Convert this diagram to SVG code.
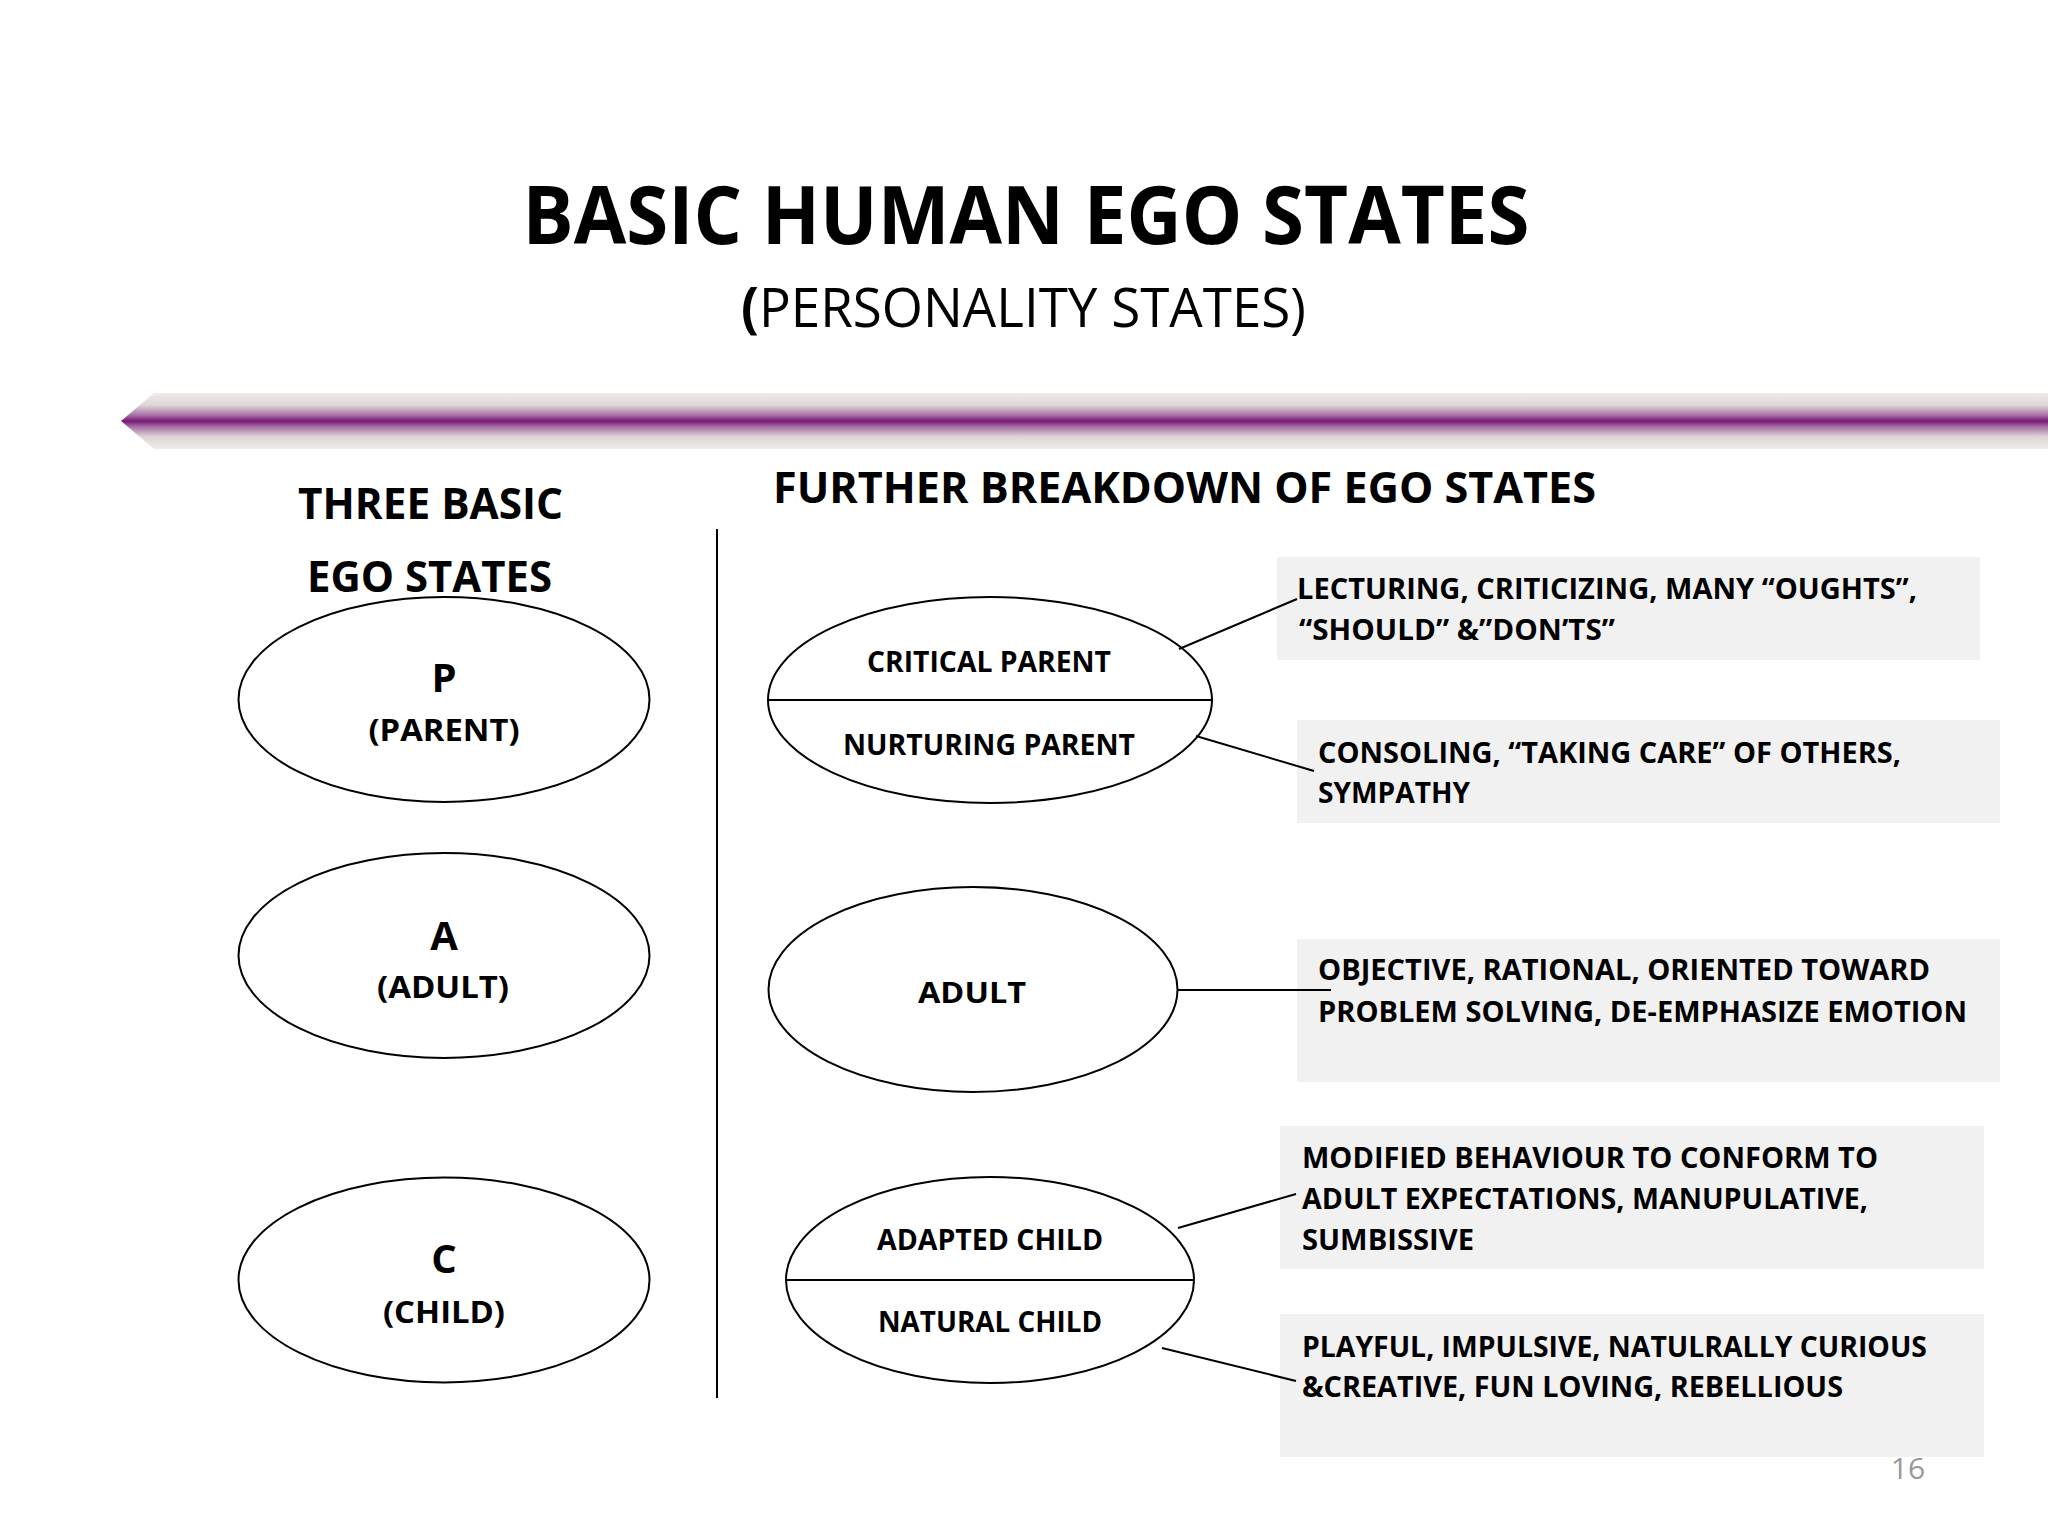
<svg xmlns="http://www.w3.org/2000/svg" width="2048" height="1536" viewBox="0 0 2048 1536">
<defs>
<linearGradient id="band" x1="0" y1="0" x2="0" y2="1">
<stop offset="0" stop-color="#efece8"/>
<stop offset="0.22" stop-color="#ddd5d8"/>
<stop offset="0.4" stop-color="#a66da3"/>
<stop offset="0.5" stop-color="#771877"/>
<stop offset="0.6" stop-color="#a66da3"/>
<stop offset="0.78" stop-color="#ddd5d8"/>
<stop offset="1" stop-color="#efece8"/>
</linearGradient>
<style>
.t{font-family:"Open Sans","Liberation Sans",sans-serif;fill:#000;}
.b{font-weight:bold;}
.el{fill:#fff;stroke:#000;stroke-width:2;}
.ln{stroke:#000;stroke-width:2;fill:none;}
.box{fill:#f2f1f1;}
.bx{font-family:"Open Sans","Liberation Sans",sans-serif;font-weight:bold;font-size:28px;fill:#000;}
.en{font-family:"Open Sans","Liberation Sans",sans-serif;font-weight:bold;font-size:28px;fill:#000;text-anchor:middle;}
</style>
</defs>
<rect width="2048" height="1536" fill="#fff"/>
<text class="t b" x="1026" y="244" font-size="80" text-anchor="middle" textLength="1007" lengthAdjust="spacingAndGlyphs">BASIC HUMAN EGO STATES</text>
<text class="t" x="741" y="327" font-size="55" textLength="565" lengthAdjust="spacingAndGlyphs"><tspan font-weight="bold">(</tspan>PERSONALITY STATES)</text>
<polygon points="154,393 2048,393 2048,449 154,449 121,421" fill="url(#band)"/>
<text class="t b" x="298" y="519" font-size="43" textLength="265" lengthAdjust="spacingAndGlyphs">THREE BASIC</text>
<text class="t b" x="307" y="592" font-size="43" textLength="245" lengthAdjust="spacingAndGlyphs">EGO STATES</text>
<text class="t b" x="773" y="503" font-size="43" textLength="823" lengthAdjust="spacingAndGlyphs">FURTHER BREAKDOWN OF EGO STATES</text>
<line class="ln" x1="717" y1="529" x2="717" y2="1398"/>
<g id="node-p">
<ellipse class="el" cx="444" cy="699.5" rx="205.5" ry="102.5"/>
<text class="t b" x="444" y="692" font-size="40" text-anchor="middle">P</text>
<text class="t b" x="444" y="741" font-size="30" text-anchor="middle" textLength="151" lengthAdjust="spacingAndGlyphs">(PARENT)</text>
</g>
<g id="node-a">
<ellipse class="el" cx="444" cy="955.5" rx="205.5" ry="102.5"/>
<text class="t b" x="444" y="950" font-size="40" text-anchor="middle">A</text>
<text class="t b" x="443" y="998" font-size="30" text-anchor="middle" textLength="132" lengthAdjust="spacingAndGlyphs">(ADULT)</text>
</g>
<g id="node-c">
<ellipse class="el" cx="444" cy="1280" rx="205.5" ry="102.5"/>
<text class="t b" x="444" y="1273" font-size="40" text-anchor="middle">C</text>
<text class="t b" x="444" y="1323" font-size="30" text-anchor="middle" textLength="122" lengthAdjust="spacingAndGlyphs">(CHILD)</text>
</g>
<g id="node-parent-split">
<ellipse class="el" cx="990" cy="700" rx="222" ry="103"/>
<line class="ln" x1="768" y1="700" x2="1212" y2="700" stroke-width="2.5"/>
<text class="en" x="989" y="672" textLength="244" lengthAdjust="spacingAndGlyphs">CRITICAL PARENT</text>
<text class="en" x="989" y="755" textLength="292" lengthAdjust="spacingAndGlyphs">NURTURING PARENT</text>
</g>
<g id="node-adult">
<ellipse class="el" cx="973" cy="989.5" rx="204.5" ry="102.5"/>
<text class="en" x="972" y="1003" font-size="33" textLength="108" lengthAdjust="spacingAndGlyphs">ADULT</text>
</g>
<g id="node-child-split">
<ellipse class="el" cx="990" cy="1280" rx="204" ry="103"/>
<line class="ln" x1="786" y1="1280" x2="1194" y2="1280" stroke-width="2.5"/>
<text class="en" x="990" y="1250" textLength="226" lengthAdjust="spacingAndGlyphs">ADAPTED CHILD</text>
<text class="en" x="990" y="1332" textLength="224" lengthAdjust="spacingAndGlyphs">NATURAL CHILD</text>
</g>
<g id="box-critical">
<rect class="box" x="1277" y="557" width="703" height="103"/>
<text class="bx" x="1297" y="599" textLength="620" lengthAdjust="spacingAndGlyphs">LECTURING, CRITICIZING, MANY “OUGHTS”,</text>
<text class="bx" x="1299" y="640" textLength="316" lengthAdjust="spacingAndGlyphs">“SHOULD” &amp;”DON’TS”</text>
</g>
<g id="box-nurturing">
<rect class="box" x="1297" y="720" width="703" height="103"/>
<text class="bx" x="1318" y="763" textLength="583" lengthAdjust="spacingAndGlyphs">CONSOLING, “TAKING CARE” OF OTHERS,</text>
<text class="bx" x="1318" y="803" textLength="152" lengthAdjust="spacingAndGlyphs">SYMPATHY</text>
</g>
<g id="box-adult">
<rect class="box" x="1297" y="939" width="703" height="143"/>
<text class="bx" x="1318" y="980" textLength="612" lengthAdjust="spacingAndGlyphs">OBJECTIVE, RATIONAL, ORIENTED TOWARD</text>
<text class="bx" x="1318" y="1022" textLength="649" lengthAdjust="spacingAndGlyphs">PROBLEM SOLVING, DE-EMPHASIZE EMOTION</text>
</g>
<g id="box-adapted">
<rect class="box" x="1280" y="1126" width="704" height="143"/>
<text class="bx" x="1302" y="1168" textLength="576" lengthAdjust="spacingAndGlyphs">MODIFIED BEHAVIOUR TO CONFORM TO</text>
<text class="bx" x="1302" y="1209" textLength="566" lengthAdjust="spacingAndGlyphs">ADULT EXPECTATIONS, MANUPULATIVE,</text>
<text class="bx" x="1302" y="1250" textLength="172" lengthAdjust="spacingAndGlyphs">SUMBISSIVE</text>
</g>
<g id="box-natural">
<rect class="box" x="1280" y="1314" width="704" height="143"/>
<text class="bx" x="1302" y="1357" textLength="625" lengthAdjust="spacingAndGlyphs">PLAYFUL, IMPULSIVE, NATULRALLY CURIOUS</text>
<text class="bx" x="1302" y="1397" textLength="541" lengthAdjust="spacingAndGlyphs">&amp;CREATIVE, FUN LOVING, REBELLIOUS</text>
</g>
<g id="connectors">
<line class="ln" x1="1179" y1="649" x2="1297" y2="599"/>
<line class="ln" x1="1196" y1="736" x2="1314" y2="771"/>
<line class="ln" x1="1178" y1="990" x2="1331" y2="990"/>
<line class="ln" x1="1178" y1="1228" x2="1296" y2="1194"/>
<line class="ln" x1="1162" y1="1348" x2="1296" y2="1381"/>
</g>
<text class="t" x="1908" y="1479" font-size="30" style="fill:#999" text-anchor="middle">16</text>
</svg>
